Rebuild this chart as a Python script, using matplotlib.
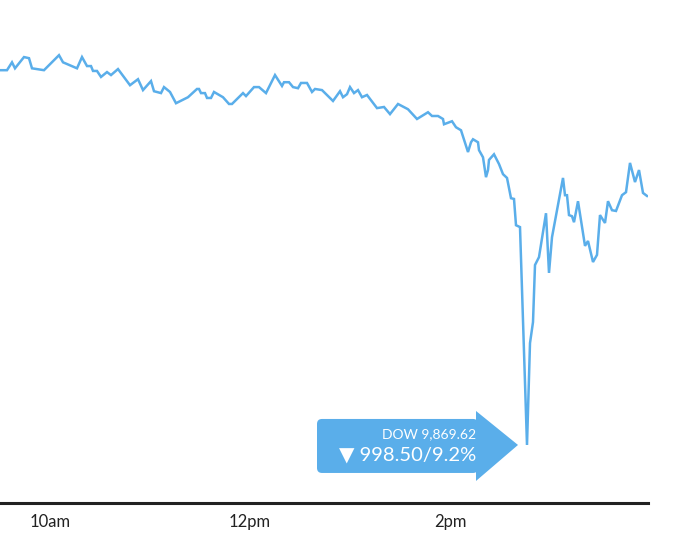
import matplotlib
matplotlib.use("Agg")
import matplotlib.pyplot as plt
import matplotlib.patches as mpatches
import matplotlib.transforms as mtrans

plt.rcParams['font.family'] = ['Lato', 'DejaVu Sans']

# intraday Dow, May 6 2010 (time in decimal hours, value in points)
times = [9.50, 9.57, 9.62, 9.65, 9.74, 9.79, 9.82, 9.94, 10.09, 10.13,
         10.27, 10.32, 10.37, 10.41, 10.43, 10.47, 10.51, 10.57, 10.61, 10.68,
         10.80, 10.88, 10.93, 11.01, 11.04, 11.11, 11.14, 11.20, 11.26, 11.38,
         11.47, 11.49, 11.51, 11.55, 11.57, 11.61, 11.64, 11.73, 11.79, 11.82,
         11.93, 11.96, 12.04, 12.09, 12.16, 12.25, 12.32, 12.34, 12.39, 12.43,
         12.48, 12.51, 12.57, 12.62, 12.65, 12.72, 12.83, 12.90, 12.93, 12.97,
         13.00, 13.04, 13.08, 13.12, 13.17, 13.27, 13.34, 13.40, 13.48, 13.58,
         13.67, 13.78, 13.82, 13.88, 13.93, 13.94, 14.02, 14.06, 14.11, 14.18,
         14.21, 14.23, 14.28, 14.29, 14.33, 14.36, 14.38, 14.39, 14.44, 14.49,
         14.53, 14.57, 14.61, 14.64, 14.66, 14.70, 14.77, 14.80, 14.83, 14.85,
         14.89, 14.96, 14.99, 15.02, 15.13, 15.15, 15.17, 15.19, 15.22, 15.24,
         15.28, 15.35, 15.38, 15.43, 15.47, 15.50, 15.55, 15.58, 15.62, 15.66,
         15.72, 15.76, 15.80, 15.85, 15.89, 15.93, 15.97]
dow = [10868, 10868, 10889, 10873, 10903, 10900, 10873, 10868, 10908, 10889,
       10873, 10903, 10879, 10879, 10866, 10866, 10850, 10863, 10855, 10871,
       10828, 10844, 10815, 10839, 10812, 10807, 10823, 10810, 10780, 10796,
       10818, 10818, 10807, 10807, 10794, 10794, 10810, 10796, 10778, 10778,
       10807, 10799, 10823, 10823, 10807, 10855, 10826, 10836, 10836, 10823,
       10820, 10834, 10834, 10810, 10818, 10815, 10786, 10812, 10796, 10804,
       10823, 10807, 10815, 10796, 10802, 10767, 10770, 10751, 10778, 10764,
       10738, 10756, 10746, 10746, 10738, 10724, 10732, 10716, 10708, 10650,
       10676, 10684, 10676, 10655, 10636, 10583, 10602, 10629, 10644, 10618,
       10591, 10581, 10527, 10525, 10455, 10450, 9869.62, 10141, 10197, 10349,
       10370, 10487, 10328, 10423, 10581, 10535, 10535, 10482, 10479, 10463,
       10519, 10400, 10413, 10357, 10376, 10482, 10461, 10519, 10495, 10493,
       10535, 10543, 10621, 10570, 10602, 10541, 10533]

tick_hours = [10, 12, 14]
tick_labels = ['10am', '12pm', '2pm']

low_label = 'DOW 9,869.62'
drop_label = '\u25BC 998.50/9.2%'

blue = '#5aaeea'

fig = plt.figure(figsize=(6.96, 5.51), dpi=100)
ax = fig.add_axes([0, 48 / 551, 648 / 696, 503 / 551])
ax.plot(times, dow, color=blue, lw=1.8, solid_joinstyle='miter', zorder=2)
ax.set_xlim(9.5, 15.98)
ax.set_ylim(9715, 11055)

for s in ['top', 'right', 'left']:
    ax.spines[s].set_visible(False)
ax.spines['bottom'].set_color('#222222')
ax.spines['bottom'].set_linewidth(2.2)
ax.set_yticks([])
ax.set_xticks(tick_hours)
ax.set_xticklabels(tick_labels)
ax.tick_params(axis='x', length=0, pad=8, labelsize=12, labelcolor='#222222')

# callout arrow pointing at the low
i_min = dow.index(min(dow))
fig.canvas.draw()
tx, ty = ax.transData.transform((times[i_min], dow[i_min]))
tx -= 9
box = mpatches.FancyBboxPatch((tx - 201, ty - 28), 161, 54,
                              boxstyle='round,pad=0,rounding_size=5',
                              transform=mtrans.IdentityTransform(),
                              facecolor=blue, edgecolor='none', clip_on=False,
                              zorder=4)
head = mpatches.Polygon([(tx - 42, ty + 34), (tx, ty), (tx - 42, ty - 36)],
                        closed=True, transform=mtrans.IdentityTransform(),
                        facecolor=blue, edgecolor='none', clip_on=False,
                        zorder=4)
ax.add_artist(box)
ax.add_artist(head)

ax.annotate(low_label, xy=(times[i_min], dow[i_min]), xytext=(-51, 11),
            textcoords='offset pixels', ha='right', va='center',
            color='white', fontsize=10, zorder=5)
ax.annotate(drop_label, xy=(times[i_min], dow[i_min]), xytext=(-51, -10),
            textcoords='offset pixels', ha='right', va='center',
            color='white', fontsize=14.5, zorder=5)

fig.savefig('out.png', dpi=100)
